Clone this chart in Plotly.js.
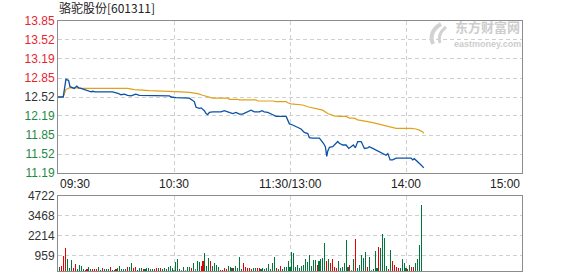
<!DOCTYPE html>
<html><head><meta charset="utf-8">
<script src="https://cdn.plot.ly/plotly-3.0.1.min.js"></script>
<style>html,body{margin:0;padding:0;background:#fff}#chart{width:578px;height:276px}</style>
</head><body><div id="chart"></div>
<script>
const chartTitle = '骆驼股份[601311]';
const preClose = 12.52;
const priceTicks = [11.19, 11.52, 11.85, 12.19, 12.52, 12.85, 13.19, 13.52, 13.85];
const priceTickText = ['11.19','11.52','11.85','12.19','12.52','12.85','13.19','13.52','13.85'];
const pctTickText = ['10.64%','7.98%','5.32%','2.66%','0.00%','2.66%','5.32%','7.98%','10.64%'];
const timeTickMin = [0, 60, 120, 180, 240];
const timeTickLabels = ['09:30', '10:30', '11:30/13:00', '14:00', '15:00'];
const volTicks = [0, 959, 2214, 3468, 4722];
const volTickText = ['0', '959', '2214', '3468', '4722'];

// minutes since 09:30 (trading minutes, lunch removed)
const priceTimes = [0,2.7,4.1,5.5,6.2,7.6,8.4,9.7,10.7,11.9,13.6,14.5,16.2,17.1,17.9,19.3,28.3,30,31.4,32.6,34.3,36,37.8,39.5,40.3,42.1,47.2,48.1,57.6,58.5,61,67.9,68.8,70.5,71.4,73.1,74,74.8,75.7,76.6,77.4,78.3,80,84.3,86,87.8,88.6,90.4,92.1,93.8,95.5,97.3,99,99.8,101.6,104.2,105.5,106.7,108.5,110.2,111.1,112.8,115.4,116.2,118,118.8,119.7,121.4,123.1,125.7,127.4,129.2,130,131.7,135.2,136,137.3,138.3,139,139.5,140.4,142.1,143.5,144.7,145.5,147.3,149,150.4,151.6,152.8,153.8,155,156.8,157.6,158.5,160.2,161,162.8,164.5,166.2,168,169.7,170.6,171.8,173.1,174.9,182.6,183.5,184.3,186.1,187.8,189.2];
const prices = [12.52,12.52,12.83,12.81,12.70,12.68,12.67,12.71,12.68,12.67,12.65,12.64,12.62,12.61,12.62,12.61,12.61,12.60,12.58,12.56,12.57,12.55,12.54,12.56,12.57,12.55,12.55,12.54,12.54,12.52,12.51,12.50,12.48,12.44,12.34,12.32,12.33,12.31,12.28,12.23,12.21,12.25,12.26,12.26,12.28,12.26,12.25,12.23,12.25,12.22,12.22,12.25,12.28,12.29,12.26,12.26,12.28,12.26,12.25,12.23,12.21,12.18,12.19,12.18,12.18,12.12,12.05,12.03,12.00,11.96,11.90,11.88,11.81,11.80,11.80,11.77,11.71,11.65,11.48,11.57,11.64,11.65,11.69,11.74,11.71,11.68,11.68,11.62,11.65,11.68,11.63,11.74,11.74,11.68,11.62,11.63,11.65,11.62,11.59,11.56,11.53,11.50,11.53,11.42,11.42,11.45,11.45,11.42,11.44,11.39,11.33,11.28];

const avgTimes = [0,2.7,4.1,5.9,9.4,11.9,36,39.5,47.2,61,63.6,67.9,72.3,74.8,76.6,80,87.8,88.6,93,93.8,102.4,103.3,111.1,112.8,118,118.8,120.5,124.8,126.6,129.2,131.7,134.3,136.9,139.5,141.2,142.9,145.5,149,150.7,153.3,155,157.6,160.2,162.8,165.4,168,169.7,172.3,174.9,182.6,185.2,186.9,188.7,189.2];
const avgPrices = [12.52,12.52,12.65,12.68,12.68,12.67,12.67,12.65,12.63,12.62,12.61,12.60,12.58,12.55,12.53,12.50,12.50,12.48,12.48,12.47,12.47,12.45,12.45,12.44,12.44,12.42,12.40,12.38,12.38,12.35,12.33,12.31,12.29,12.23,12.21,12.19,12.18,12.18,12.15,12.15,12.12,12.11,12.09,12.07,12.05,12.03,12.01,11.99,11.97,11.97,11.96,11.94,11.91,11.88];

// per-minute volume (lots), minute 1..188
const volumes = [270,315,945,1450,780,170,693,210,441,105,378,336,147,40,105,252,147,147,147,147,252,84,210,105,105,147,252,50,60,105,168,336,147,105,147,252,252,504,168,252,84,210,168,105,147,210,168,147,147,147,210,189,168,105,210,147,252,336,168,84,588,756,
105,63,252,63,252,252,210,504,105,630,588,336,630,1133,336,819,630,336,504,378,252,84,84,210,105,294,252,168,210,294,210,882,126,504,252,210,210,105,210,210,168,168,105,210,147,168,420,147,525,882,210,147,315,147,252,252,630,252,1197,
1150,273,378,210,315,378,735,588,1008,315,693,693,378,630,735,798,1784,630,735,483,735,273,210,630,210,273,525,1952,273,378,63,735,2015,210,378,1008,798,1197,273,903,63,100,1260,210,1533,1427,2330,2057,315,126,1322,651,378,273,210,210,735,525,210,126,378,273,273,525,735,1637,4156];
// 1 = price up (red), -1 = down (green), 0 = unchanged
const volDir = [-1,1,1,1,-1,-1,-1,1,1,-1,-1,-1,-1,-1,1,-1,-1,1,1,1,-1,-1,1,-1,-1,-1,1,-1,-1,1,-1,-1,-1,-1,-1,1,-1,-1,1,1,-1,-1,-1,1,-1,-1,-1,-1,-1,1,1,-1,1,-1,-1,-1,-1,-1,-1,0,-1,-1,
-1,0,-1,0,-1,-1,1,-1,0,-1,-1,1,1,-1,-1,-1,1,-1,-1,-1,-1,1,1,1,1,-1,-1,-1,1,-1,-1,-1,-1,1,1,1,1,1,-1,-1,1,1,-1,-1,-1,-1,-1,-1,-1,-1,1,-1,1,-1,-1,-1,-1,-1,-1,
-1,-1,-1,-1,-1,-1,-1,-1,-1,-1,-1,-1,1,-1,-1,-1,-1,1,-1,1,1,1,1,-1,-1,-1,-1,-1,-1,1,0,-1,1,-1,-1,-1,-1,-1,1,-1,0,-1,-1,-1,1,-1,-1,-1,-1,1,-1,1,1,1,1,-1,-1,-1,-1,1,-1,1,1,-1,-1,-1,-1];

const RED = '#e5262d', GREEN = '#1d8a44', DARK = '#333333';
const BAR_UP = '#e60000', BAR_DOWN = '#00763a', BAR_FLAT = '#7a7a7a';
const volMinutes = volumes.map((v, i) => i + 1);
const barColors = volDir.map(d => d > 0 ? BAR_UP : (d < 0 ? BAR_DOWN : BAR_FLAT));

function colorFor(v, center) { return v > center + 1e-9 ? RED : (v < center - 1e-9 ? GREEN : DARK); }
const leftText = priceTicks.map((v, i) => `<span style="color:${colorFor(v, preClose)}">${priceTickText[i]}</span>`);
const rightText = priceTicks.map((v, i) => `<span style="color:${colorFor(v, preClose)}">${pctTickText[i]}</span>`);

const FONT = 'Liberation Sans, Arial, sans-serif';
const GRID = '#cfcfcf', BORDER = '#8c8c8c';

const traces = [
  {x: avgTimes, y: avgPrices, type: 'scatter', mode: 'lines', xaxis: 'x', yaxis: 'y',
   line: {color: '#e0a21c', width: 1.2}, hoverinfo: 'skip'},
  {x: priceTimes, y: prices, type: 'scatter', mode: 'lines', xaxis: 'x', yaxis: 'y',
   line: {color: '#0b53a6', width: 1.3}, hoverinfo: 'skip'},
  {x: volMinutes, y: volumes, type: 'bar', xaxis: 'x2', yaxis: 'y3',
   marker: {color: barColors, line: {width: 0}}, width: 0.55, hoverinfo: 'skip'}
];

const annotations = timeTickMin.map((t, i) => ({
  x: t, xref: 'x', y: 0.348, yref: 'paper', text: timeTickLabels[i], showarrow: false,
  xanchor: i === 0 ? 'left' : (i === timeTickMin.length - 1 ? 'right' : 'center'), yanchor: 'middle',
  font: {family: FONT, size: 12, color: '#222'}
}));
annotations.push({x: 0.998, xref: 'paper', y: 0.938, yref: 'paper', text: '<b>东方财富网</b>', showarrow: false,
  xanchor: 'right', yanchor: 'bottom', borderpad: 0, font: {family: 'Noto Sans CJK SC', size: 13, color: '#cdcdcd'}});
annotations.push({x: 1.0, xref: 'paper', y: 0.932, yref: 'paper', text: '<b>eastmoney.com</b>', showarrow: false,
  xanchor: 'right', yanchor: 'top', borderpad: 0, font: {family: 'Liberation Sans, Arial', size: 9, color: '#cdcdcd'}});

const layout = {
  width: 578, height: 276,
  margin: {l: 58, r: 56, t: 21, b: 5, pad: 0},
  paper_bgcolor: '#fff', plot_bgcolor: '#fff',
  showlegend: false,
  title: {text: chartTitle, x: 0.102, xanchor: 'left', xref: 'container', y: 0.967, yanchor: 'middle', yref: 'container',
          font: {family: 'Noto Sans CJK SC', size: 12, color: '#222'}},
  xaxis: {domain: [0, 1], anchor: 'y', range: [0, 240], tickvals: timeTickMin, showticklabels: false,
          showgrid: true, gridcolor: GRID, griddash: '4px,3px', gridwidth: 1, zeroline: false,
          showline: true, mirror: true, linecolor: BORDER, linewidth: 1, ticks: ''},
  yaxis: {domain: [0.392, 1], anchor: 'x', range: [11.19, 13.85], tickvals: priceTicks, ticktext: leftText,
          showgrid: true, gridcolor: GRID, griddash: '4px,3px', zeroline: false, ticks: '',
          showline: true, mirror: true, linecolor: BORDER, linewidth: 1,
          tickfont: {family: FONT, size: 12, color: DARK}},
  yaxis2: {overlaying: 'y', side: 'right', anchor: 'x', range: [11.19, 13.85], tickvals: priceTicks, ticktext: rightText,
           showgrid: false, zeroline: false, ticks: '', showline: false,
           tickfont: {family: FONT, size: 12, color: DARK}},
  xaxis2: {domain: [0, 1], anchor: 'y3', range: [0, 240], tickvals: timeTickMin, showticklabels: false,
           showgrid: true, gridcolor: GRID, griddash: '4px,3px', zeroline: false,
           showline: true, mirror: true, linecolor: BORDER, linewidth: 1, ticks: ''},
  yaxis3: {domain: [0, 0.3], anchor: 'x2', range: [0, 4722], tickvals: volTicks, ticktext: volTickText,
           showgrid: true, gridcolor: GRID, griddash: '4px,3px', zeroline: false, ticks: '',
           showline: true, mirror: true, linecolor: BORDER, linewidth: 1,
           tickfont: {family: FONT, size: 12, color: DARK}},
  bargap: 0,
  annotations: annotations,
  shapes: [
    {type: 'path', xref: 'paper', yref: 'paper', path: 'M 0.8254 0.988 Q 0.7974 0.956 0.8082 0.908',
     line: {color: '#d2d2d2', width: 4}},
    {type: 'path', xref: 'paper', yref: 'paper', path: 'M 0.8362 0.976 Q 0.8168 0.948 0.8233 0.912',
     line: {color: '#d2d2d2', width: 3}}
  ]
};

Plotly.newPlot('chart', traces, layout, {staticPlot: true, displayModeBar: false});
</script>
</body></html>
